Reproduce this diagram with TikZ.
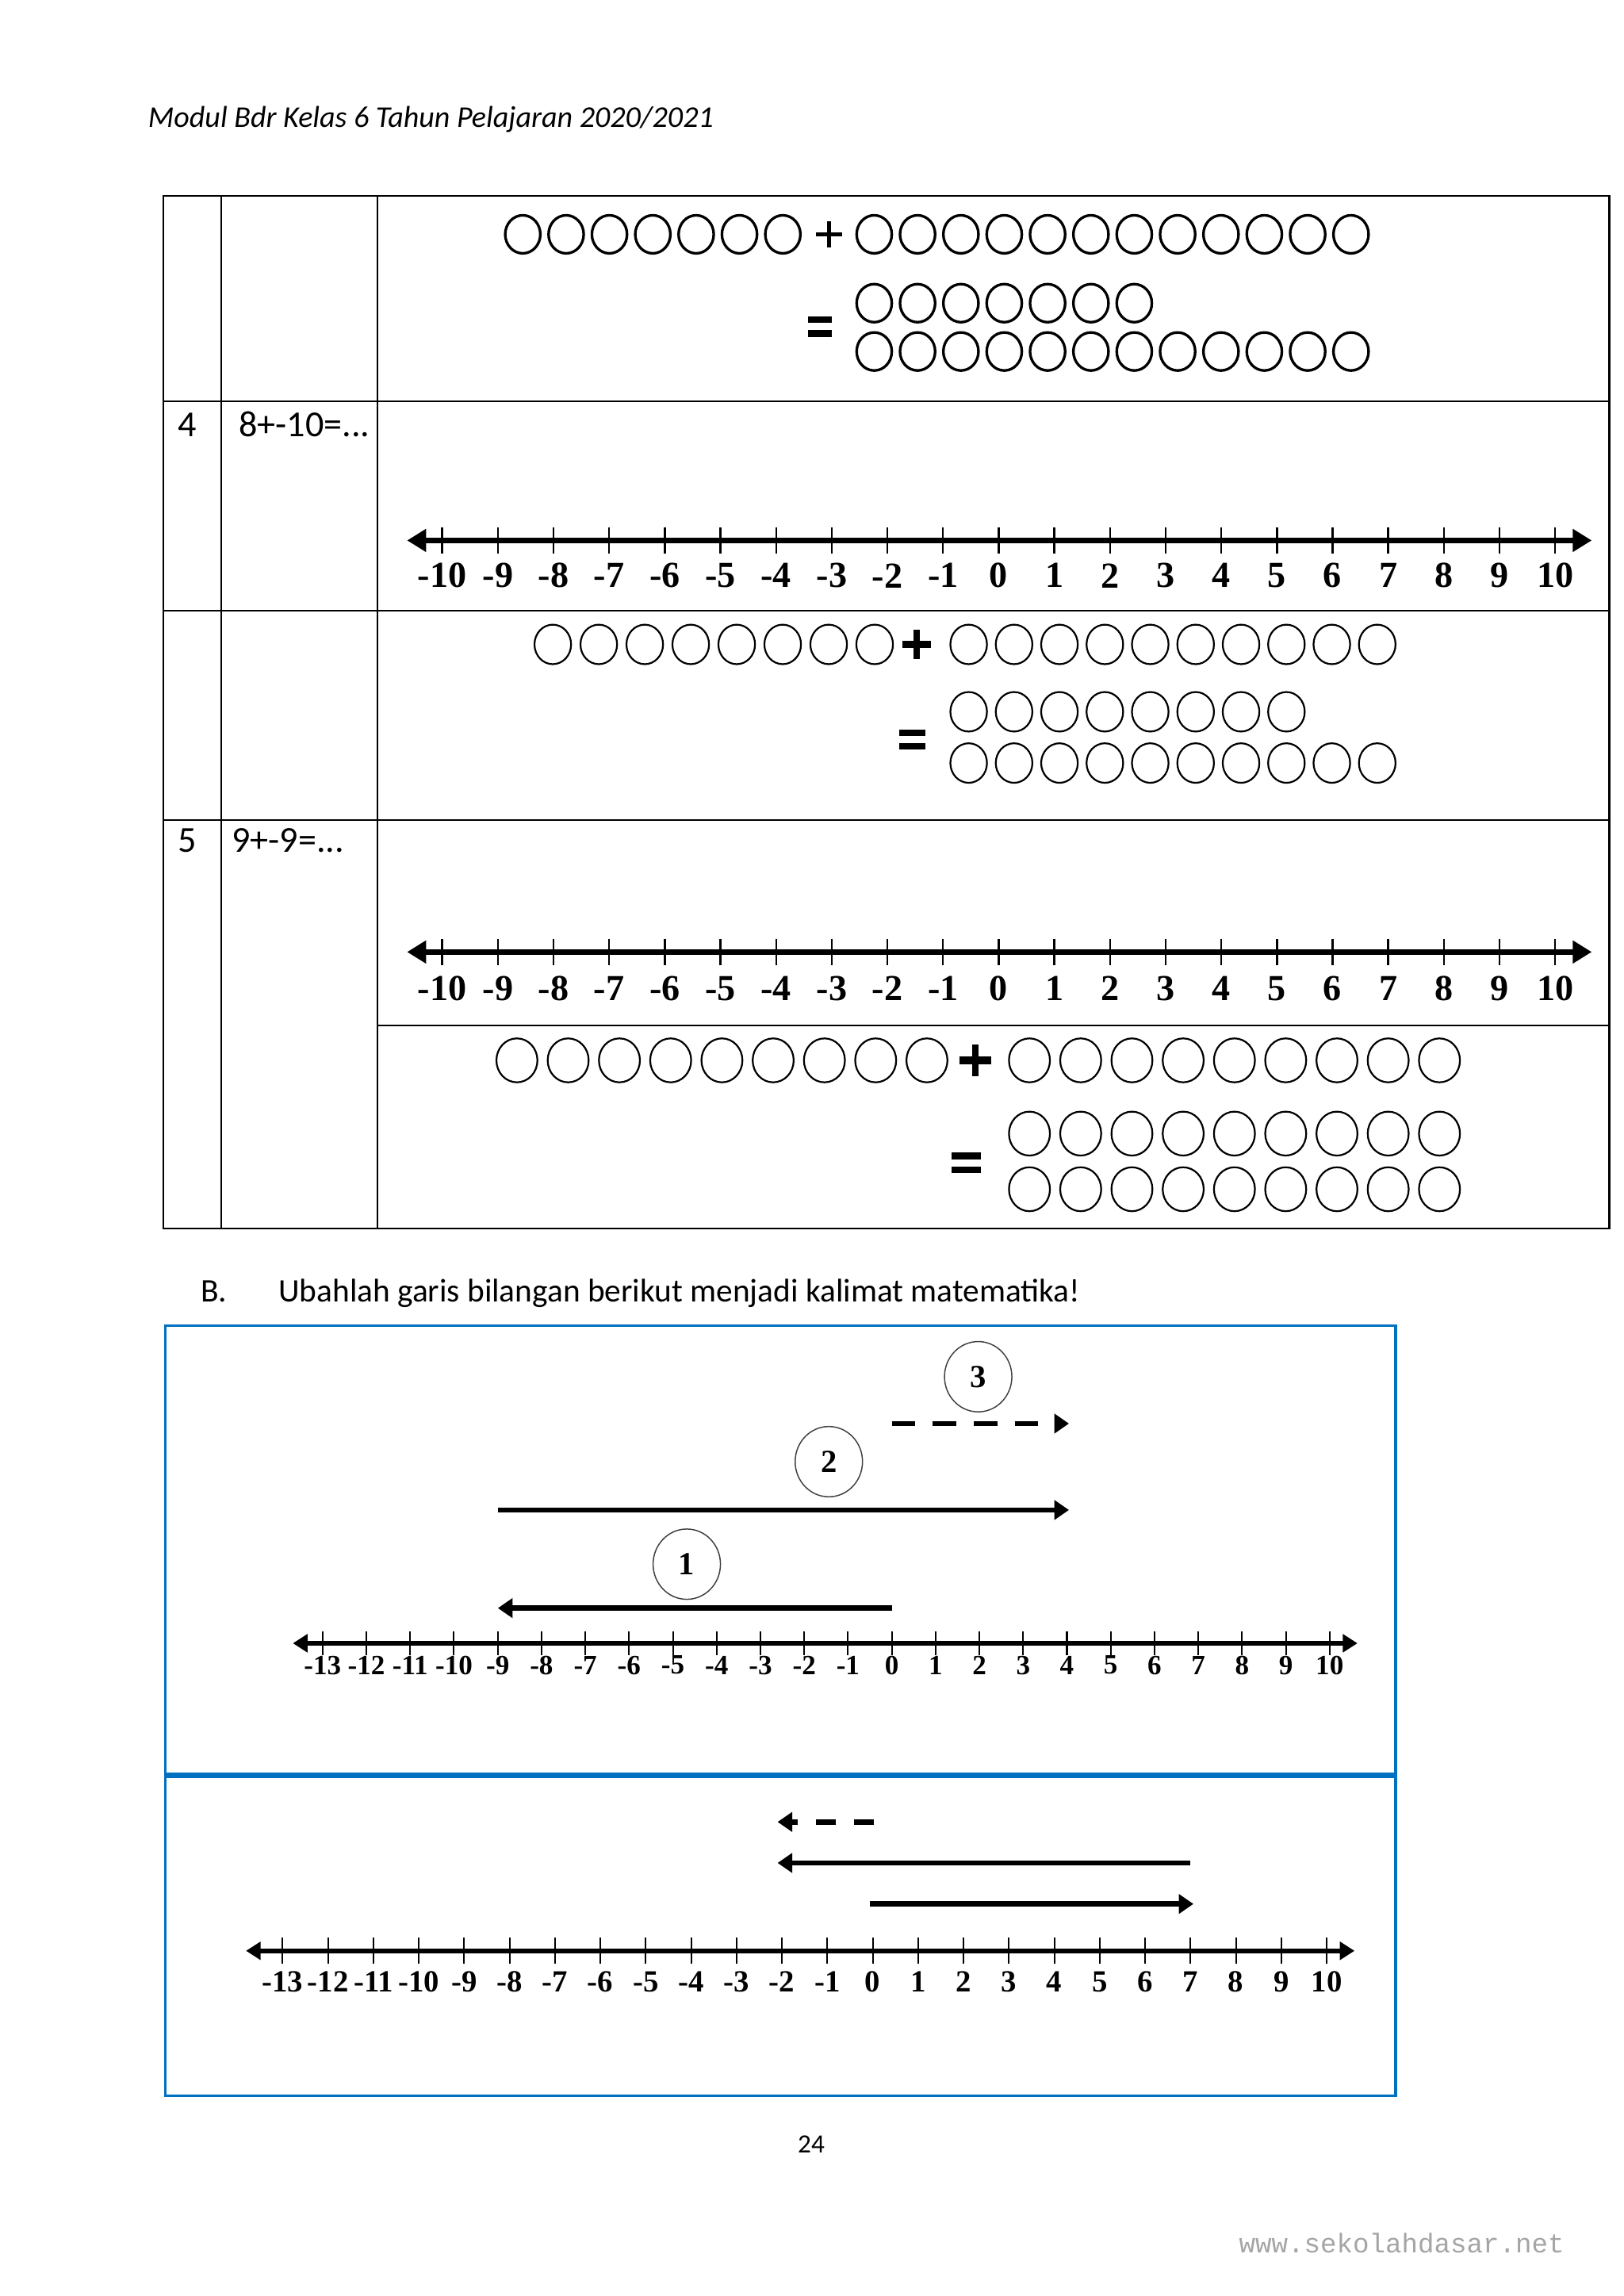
\documentclass[tikz,border=0pt]{standalone}
\usepackage{fontspec}
\setmainfont{Carlito}
\newfontfamily\nlfont{Liberation Serif}
\newfontfamily\wmfont{Liberation Mono}
\usetikzlibrary{arrows.meta,shapes.geometric}
\definecolor{boxblue}{RGB}{0,112,192}
\definecolor{wmgray}{RGB}{165,165,165}
\tikzset{
  tblline/.style={line width=1.1pt, black},
  ovalA/.style={line width=1.8pt},
  ovalB/.style={line width=1.2pt},
  axisT/.style={line width=3.6pt, {Triangle[length=13pt,width=15pt]}-{Triangle[length=13pt,width=15pt]}},
  tickT/.style={line width=1.3pt},
  lblT/.style={font=\nlfont\bfseries\fontsize{25}{25}\selectfont, inner sep=0pt},
  axisB/.style={line width=2.8pt, {Triangle[length=10pt,width=12pt]}-{Triangle[length=10pt,width=12pt]}},
  tickB/.style={line width=1.1pt},
  lblB/.style={font=\nlfont\bfseries\fontsize{19}{19}\selectfont, inner sep=0pt},
  jump/.style={line width=3.6pt, -{Triangle[length=10pt,width=13pt]}},
  jumpdash/.style={jump, dash pattern=on 16pt off 12pt},
  numcirc/.style={ellipse, draw=black!75, line width=0.8pt, minimum width=46pt, minimum height=48pt, inner sep=0pt, font=\nlfont\bfseries\fontsize{22}{22}\selectfont},
  celltxt/.style={inner sep=0pt, font=\fontsize{25}{25}\selectfont}
}
\newcommand{\ovals}[7]{\foreach \k in {1,...,#1}{\draw[#7] ({#2+(\k-1)*#3},#4) ellipse [x radius=#5, y radius=#6];}}
\newcommand{\plusmark}[5]{\draw[line width=#5] ({#1-#3},#2) -- ({#1+#3},#2); \draw[line width=#4] (#1,{#2-#3}) -- (#1,{#2+#3});}
\newcommand{\eqmark}[3]{\fill ({#1-#3},{#2-7}) rectangle ({#1+#3},{#2-2.5}); \fill ({#1-#3},{#2+2.5}) rectangle ({#1+#3},{#2+7});}
\begin{document}
\begin{tikzpicture}[x=1pt,y=-1pt]
\fill[white] (0,0) rectangle (1109,1567.7);
\useasboundingbox (0,0) rectangle (1109,1567.7);

% header
\node[anchor=base west, inner sep=0pt, font=\itshape\fontsize{20.6}{24}\selectfont] (hdr) at (101,87) {Modul Bdr Kelas 6 Tahun Pelajaran 2020/2021};

% table grid
\draw[tblline] (111.5,134) rectangle (1099,839);
\draw[tblline] (151,134) -- (151,839);
\draw[tblline] (258,134) -- (258,839);
\draw[tblline] (111.5,274) -- (1099,274);
\draw[tblline] (111.5,417) -- (1099,417);
\draw[tblline] (111.5,560) -- (1099,560);
\draw[tblline] (258,700) -- (1099,700);

% cell texts
\node[celltxt, anchor=base] (n4) at (128,298) {4};
\node[celltxt, anchor=base west] (q4) at (163,298) {8+-10=...};
\node[celltxt, anchor=base] (n5) at (128,582) {5};
\node[celltxt, anchor=base west] (q5) at (158,582) {9+-9=...};

% row 1 ovals
\ovals{7}{357}{29.6}{160}{12}{13}{ovalA}
\plusmark{566}{160}{9}{2.5}{3}
\ovals{12}{597}{29.6}{160}{12}{13}{ovalA}
\eqmark{560}{223}{8}
\ovals{7}{597}{29.6}{207}{12}{13}{ovalA}
\ovals{12}{597}{29.6}{240}{12}{13}{ovalA}

% row 2 number line
\draw[axisT] (278,369) -- (1087,369);
\foreach \n in {-10,...,10}{
  \pgfmathsetmacro\xx{682+38*\n}
  \draw[tickT] (\xx,360) -- (\xx,378);
  \node[lblT] (la\n) at (\xx,393) {\n};
}

% row 3 ovals
\ovals{8}{377.5}{31.4}{440}{12.5}{13.5}{ovalB}
\plusmark{626}{440}{10}{4.5}{4.5}
\ovals{10}{661.5}{31}{440}{12.5}{13.5}{ovalB}
\eqmark{623}{505}{9}
\ovals{8}{661.5}{31}{486}{12.5}{13.5}{ovalB}
\ovals{10}{661.5}{31}{521}{12.5}{13.5}{ovalB}

% row 4 number line
\draw[axisT] (278,650) -- (1087,650);
\foreach \n in {-10,...,10}{
  \pgfmathsetmacro\xx{682+38*\n}
  \draw[tickT] (\xx,641) -- (\xx,659);
  \node[lblT] (lb\n) at (\xx,675) {\n};
}

% row 5 ovals
\ovals{9}{353}{35}{724}{14}{15}{ovalB}
\plusmark{666}{724}{11}{4.5}{5}
\ovals{9}{703}{35}{724}{14}{15}{ovalB}
\eqmark{660}{794}{10}
\ovals{9}{703}{35}{774}{14}{15}{ovalB}
\ovals{9}{703}{35}{812}{14}{15}{ovalB}

% section B
\node[anchor=base west, inner sep=0pt, font=\fontsize{22.5}{24}\selectfont] (bl) at (137,889) {B.};
\node[anchor=base west, inner sep=0pt, font=\fontsize{22.4}{24}\selectfont] (bt) at (190,889) {Ubahlah garis bilangan berikut menjadi kalimat matematika!};

\draw[boxblue, line width=1.8pt] (113,905) rectangle (953,1211);
\draw[boxblue, line width=1.8pt] (113,1213) rectangle (953,1431);

% box 1 number line
\draw[axisB] (200,1122) -- (927,1122);
\foreach \n in {-13,...,10}{
  \pgfmathsetmacro\xx{609+29.9*\n}
  \draw[tickB] (\xx,1114) -- (\xx,1130);
  \node[lblB] (lc\n) at (\xx,1137) {\n};
}
\coordinate (a1s) at (609,1098); \coordinate (a1e) at (340,1098);
\coordinate (a2s) at (340,1031); \coordinate (a2e) at (730,1031);
\coordinate (a3s) at (609,972);  \coordinate (a3e) at (730,972);
\draw[jump] (a1s) -- (a1e);
\draw[jump] (a2s) -- (a2e);
\draw[jumpdash] (a3s) -- (a3e);
\node[numcirc] (c1) at (469,1068) {1};
\node[numcirc] (c2) at (566,998) {2};
\node[numcirc] (c3) at (668,940) {3};

% box 2 number line
\draw[axisB, line width=3.2pt] (168,1332) -- (925,1332);
\foreach \n in {-13,...,10}{
  \pgfmathsetmacro\xx{596+31*\n}
  \draw[tickB] (\xx,1323) -- (\xx,1341);
  \node[lblB, font=\nlfont\bfseries\fontsize{21}{21}\selectfont] (ld\n) at (\xx,1353) {\n};
}
\coordinate (b1s) at (597,1244); \coordinate (b1e) at (531,1244);
\coordinate (b2s) at (813,1272); \coordinate (b2e) at (531,1272);
\coordinate (b3s) at (594,1300); \coordinate (b3e) at (815,1300);
\draw[jump, dash pattern=on 14pt off 12pt] (b1s) -- (b1e);
\draw[jump] (b2s) -- (b2e);
\draw[jump] (b3s) -- (b3e);

% footer
\node[inner sep=0pt, font=\fontsize{18}{18}\selectfont] (pg) at (554,1464) {24};
\node[anchor=base west, inner sep=0pt, font=\wmfont\fontsize{18.5}{18.5}\selectfont, text=wmgray] (wm) at (846,1538) {www.sekolahdasar.net};
\end{tikzpicture}
\end{document}
